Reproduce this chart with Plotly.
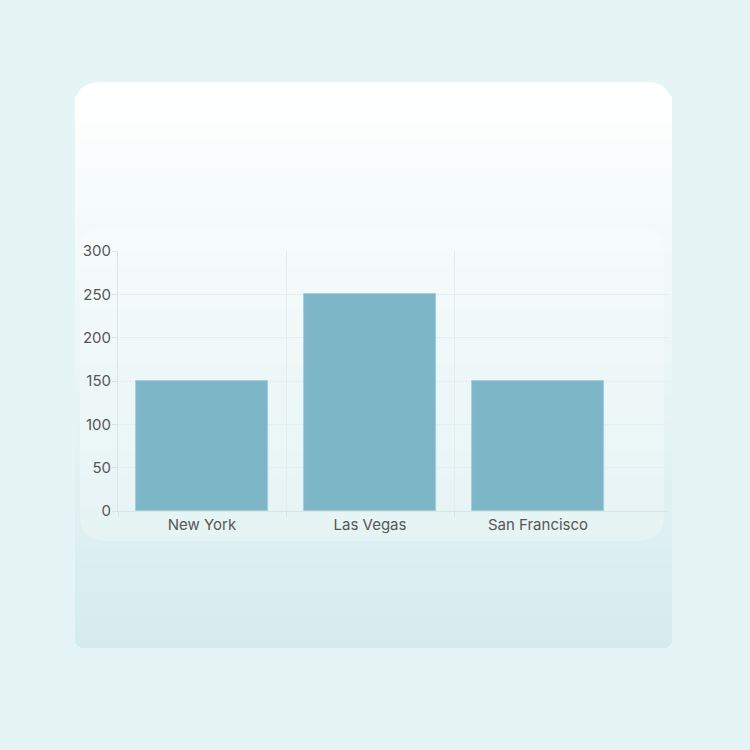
import plotly.graph_objects as go

cities = ["New York", "Las Vegas", "San Francisco"]
visitors = [150, 250, 150]
y_ticks = [0, 50, 100, 150, 200, 250, 300]

W, H = 750, 750
L, R, T, B = 118, 668, 251, 511  # plot area in pixels


def px(x, y):
    # pixel -> paper coordinates
    return "%.5f,%.5f" % ((x - L) / (R - L), (B - y) / (B - T))


def rounded(x0, y0, x1, y1, rt, rb):
    return ("M" + px(x0 + rt, y0) +
            " L" + px(x1 - rt, y0) +
            " Q" + px(x1, y0) + " " + px(x1, y0 + rt) +
            " L" + px(x1, y1 - rb) +
            " Q" + px(x1, y1) + " " + px(x1 - rb, y1) +
            " L" + px(x0 + rb, y1) +
            " Q" + px(x0, y1) + " " + px(x0, y1 - rb) +
            " L" + px(x0, y0 + rt) +
            " Q" + px(x0, y0) + " " + px(x0 + rt, y0) + " Z")


shapes = [dict(type="path", xref="paper", yref="paper", layer="below",
               path=rounded(75, 82, 672, 648, 26, 10),
               fillcolor="#ffffff", line=dict(width=0))]

# stepped vertical gradient: white at the top -> pale teal at the bottom
top_rgb, bot_rgb = (255, 255, 255), (213, 236, 237)
n = 40
for i in range(1, n):
    f = i / (n - 1)
    c = tuple(round(a + (b - a) * f) for a, b in zip(top_rgb, bot_rgb))
    top = 82 + i * (648 - 82) / n
    shapes.append(dict(type="path", xref="paper", yref="paper", layer="below",
                       path=rounded(75, top, 672, 648, 0, 10),
                       fillcolor="rgb(%d,%d,%d)" % c, line=dict(width=0)))

# lighter inner panel behind the chart
shapes.append(dict(type="path", xref="paper", yref="paper", layer="below",
                   path=rounded(80, 228, 664, 541, 26, 26),
                   fillcolor="rgba(255,255,255,0.25)", line=dict(width=0)))

fig = go.Figure()
fig.add_trace(go.Bar(
    x=list(range(len(cities))), y=visitors, width=0.78,
    marker=dict(color="#7db7c7", line=dict(color="#9ccad5", width=0.8)),
    hoverinfo="skip",
))

fig.update_layout(
    width=W, height=H,
    margin=dict(l=L, r=W - R, t=T, b=H - B),
    paper_bgcolor="#e5f5f5",
    plot_bgcolor="rgba(0,0,0,0)",
    font=dict(family="Inter, Lato, sans-serif", size=15, color="#565656"),
    showlegend=False,
    bargap=0,
    shapes=shapes,
)
fig.update_xaxes(
    range=[-0.5, (R - L) / 168 - 0.5],
    tickvals=list(range(len(cities))), ticktext=cities,
    ticks="", showgrid=False, zeroline=False,
    showline=True, linecolor="#d9e4e6", linewidth=1,
    minor=dict(tickvals=[-0.5, 0.5, 1.5], ticks="outside", ticklen=5,
               tickcolor="#dbe3e4", showgrid=True, gridcolor="#e4ecec", gridwidth=1),
    fixedrange=True,
)
fig.update_yaxes(
    range=[0, 300], tickvals=y_ticks,
    ticks="outside", ticklen=5, tickcolor="#dbe3e4",
    ticklabelstandoff=-2,
    showgrid=True, gridcolor="#e8eff0", gridwidth=1, zeroline=False,
    showline=True, linecolor="#dbe5e6", linewidth=1,
    fixedrange=True,
)

fig.write_html("out.html", config=dict(displayModeBar=False),
               post_script="document.body.style.margin='0';"
                           "document.body.style.background='#e5f5f5';")
